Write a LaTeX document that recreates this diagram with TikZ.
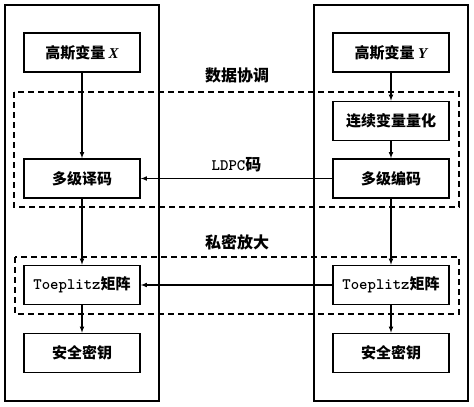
\documentclass[tikz,border=0pt]{standalone}
\usepackage{fontspec}
\setmainfont{Liberation Serif}
\newfontfamily\cjk{Noto Sans CJK SC}
\usepackage{tikz}
\usetikzlibrary{arrows,backgrounds,calc}
\newcommand{\rv}[1]{{\rmfamily\bfseries\itshape #1}}
\newcommand{\mono}[1]{{\ttfamily\fontsize{16}{18}\selectfont #1}}

\begin{document}
\begin{tikzpicture}[x=1pt,y=-1pt,
  box/.style={draw,line width=1.6pt,minimum width=116pt,minimum height=39pt,
    inner sep=0pt,font=\fontsize{15}{17}\selectfont\cjk\bfseries},
  frame/.style={draw,line width=1.6pt},
  group/.style={draw,line width=1.4pt,dash pattern=on 6pt off 4pt},
  flow/.style={-latex,line width=1.1pt},
  lbl/.style={font=\fontsize{16}{18}\selectfont\cjk\bfseries}]
\useasboundingbox (0,0) rectangle (474,407);
% Alice / Bob
\draw[frame] (5,5) rectangle (159,401);
\draw[frame] (314,5) rectangle (468,401);
% reconciliation and privacy amplification
\draw[group] (14,92) rectangle (459,207);
\draw[group] (15,257) rectangle (459,314);
\node[lbl] (recon) at (237,75) {数据协调};
\node[lbl] (pa) at (237,242) {私密放大};

\node[box] (gx) at (82,52.5) {高斯变量 \rv{X}};
\node[box] (dec) at (82,178.5) {多级译码};
\node[box] (tpa) at (82,285) {\mono{Toeplitz}矩阵};
\node[box] (keya) at (82,353) {安全密钥};

\node[box] (gy) at (391,52.5) {高斯变量 \rv{Y}};
\node[box] (quant) at (391,121) {连续变量量化};
\node[box] (enc) at (391,178.5) {多级编码};
\node[box] (tpb) at (391,285) {\mono{Toeplitz}矩阵};
\node[box] (keyb) at (391,353) {安全密钥};

\draw[flow] (gx) -- (dec);
\draw[flow] (dec) -- (tpa);
\draw[flow] (tpa) -- (keya);
\draw[flow] (gy) -- (quant);
\draw[flow] (quant) -- (enc);
\draw[flow] (enc) -- (tpb);
\draw[flow] (tpb) -- (keyb);
\draw[flow] (enc) -- node[above=3pt,lbl]{\mono{LDPC}码} (dec);
\draw[flow] (tpb) -- (tpa);
\end{tikzpicture}
\end{document}
